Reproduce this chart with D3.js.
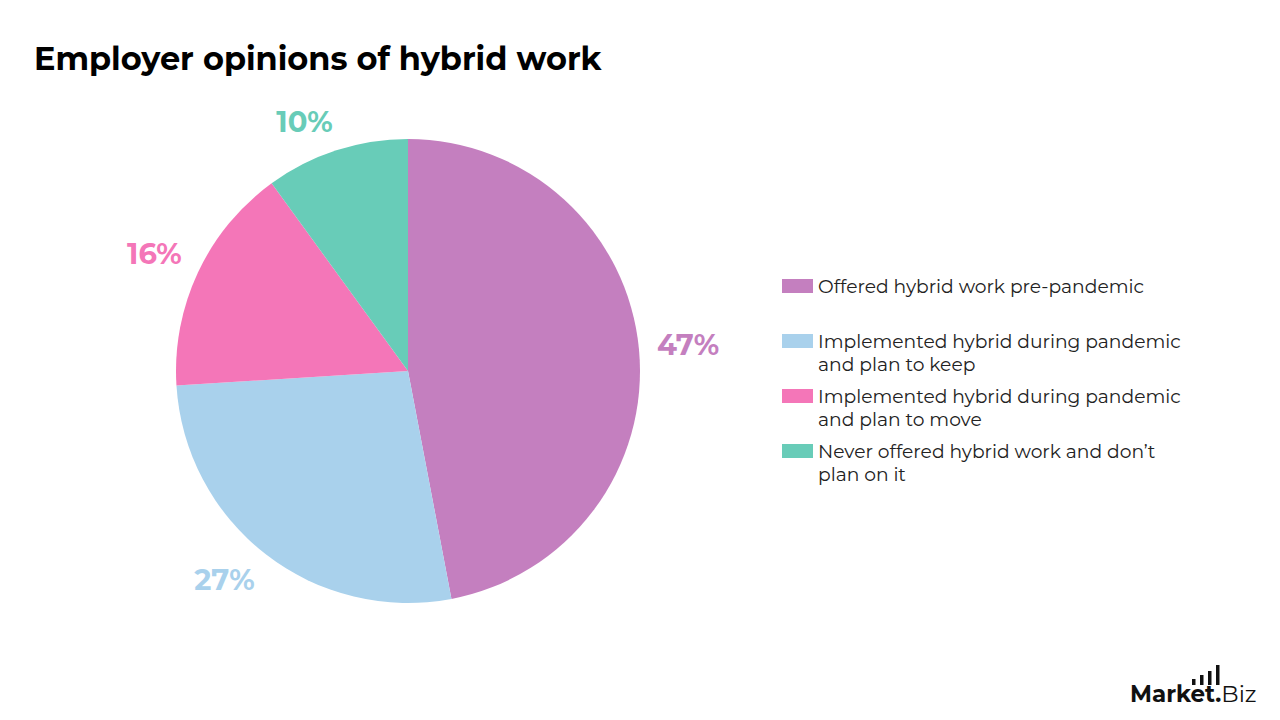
<!DOCTYPE html>
<html>
<head>
<meta charset="utf-8">
<script src="https://cdn.jsdelivr.net/npm/d3@7"></script>
<style>
  body { margin: 0; background: #fff; }
  svg { display: block; }
</style>
</head>
<body>
<div id="chart"></div>
<script>
const categories = [
  "Offered hybrid work pre-pandemic",
  "Implemented hybrid during pandemic and plan to keep",
  "Implemented hybrid during pandemic and plan to move",
  "Never offered hybrid work and don’t plan on it"
];
const legendLines = [
  ["Offered hybrid work pre-pandemic"],
  ["Implemented hybrid during pandemic", "and plan to keep"],
  ["Implemented hybrid during pandemic", "and plan to move"],
  ["Never offered hybrid work and don’t", "plan on it"]
];
const values = [47, 27, 16, 10];
const colors = ["#c47fbf", "#a9d1ec", "#f476b8", "#68ccb8"];

const width = 1280, height = 720;
const cx = 408, cy = 371, radius = 232;

const svg = d3.select("#chart").append("svg")
  .attr("width", width)
  .attr("height", height);

// Title
svg.append("text")
  .attr("x", 34)
  .attr("y", 70)
  .style("font-family", "Montserrat, 'Open Sans', sans-serif")
  .style("font-weight", "bold")
  .style("font-size", "32px")
  .style("fill", "#000")
  .text("Employer opinions of hybrid work");

const data = categories.map((c, i) => ({ name: c, value: values[i], color: colors[i] }));

const pie = d3.pie().sort(null).value(d => d.value);
const arc = d3.arc().innerRadius(0).outerRadius(radius);

const g = svg.append("g").attr("transform", `translate(${cx},${cy})`);
const arcs = pie(data);

g.selectAll("path")
  .data(arcs)
  .join("path")
  .attr("d", arc)
  .attr("fill", d => d.data.color);

// Percentage labels, placed outside the slice so the box's inner edge sits near the rim
const labelR = 250;
const labels = g.selectAll("text.pct")
  .data(arcs)
  .join("text")
  .attr("class", "pct")
  .attr("text-anchor", "middle")
  .attr("dy", "0.35em")
  .style("font-family", "Montserrat, 'Open Sans', sans-serif")
  .style("font-weight", "bold")
  .style("font-size", "29px")
  .style("fill", d => d.data.color)
  .text(d => d.data.value + "%");

labels.each(function(d) {
  const bb = this.getBBox();
  const a = (d.startAngle + d.endAngle) / 2;
  const dx = Math.sin(a), dy = -Math.cos(a);
  const clamp = v => Math.max(-1, Math.min(1, v));
  const x = labelR * dx + clamp(dx * 3) * bb.width / 2;
  const y = labelR * dy + clamp(dy * 3) * 11;
  d3.select(this).attr("transform", `translate(${x},${y})`);
});

// Legend
const legendY = [286, 341, 396, 451];
const legend = svg.append("g");
legendLines.forEach((lines, i) => {
  const row = legend.append("g").attr("transform", `translate(782,${legendY[i]})`);
  row.append("rect")
    .attr("x", 0).attr("y", -7)
    .attr("width", 31).attr("height", 14)
    .attr("fill", colors[i]);
  const t = row.append("text")
    .style("font-family", "Montserrat, 'Open Sans', sans-serif")
    .style("font-size", "18.7px")
    .style("fill", "#222");
  lines.forEach((l, j) => {
    t.append("tspan").attr("x", 36).attr("y", j * 23).attr("dy", "0.35em").text(l);
  });
});

// Logo
const logo = svg.append("g").attr("transform", "translate(1130,702)");
logo.append("text")
  .attr("x", 0).attr("y", 0)
  .style("font-family", "Montserrat, 'Open Sans', sans-serif")
  .style("font-size", "23px")
  .style("fill", "#111")
  .html('<tspan font-weight="bold">Market.</tspan><tspan font-weight="normal">Biz</tspan>');
[[62, 6], [70, 10], [78, 14], [86, 20]].forEach(([x, h]) => {
  logo.append("rect").attr("x", x).attr("y", -17 - h).attr("width", 3.5).attr("height", h).attr("fill", "#111");
});
</script>
</body>
</html>
